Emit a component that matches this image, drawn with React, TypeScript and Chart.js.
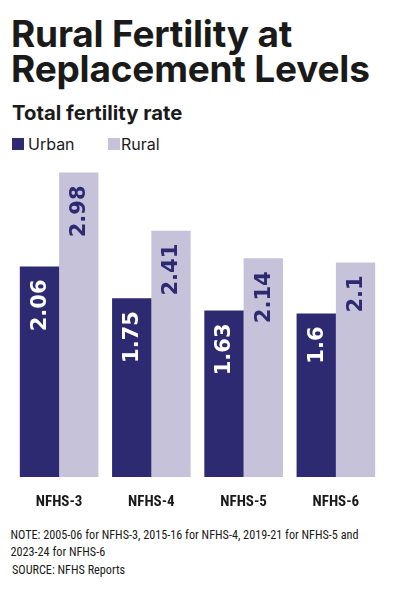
import React, { useEffect, useRef } from "react";
import { Chart, registerables } from "chart.js";

Chart.register(...registerables);

const categories = ["NFHS-3", "NFHS-4", "NFHS-5", "NFHS-6"];
const urbanValues = [2.06, 1.75, 1.63, 1.6];
const ruralValues = [2.98, 2.41, 2.14, 2.1];
const seriesNames = ["Urban", "Rural"];
const seriesColors = ["#2d2a72", "#c5c2da"];
const labelColors = ["#ffffff", "#2d2a72"];
const titleLines = ["Rural Fertility at", "Replacement Levels"];
const subtitle = "Total fertility rate";
const noteLines = [
  "NOTE: 2005-06 for NFHS-3, 2015-16 for NFHS-4, 2019-21 for NFHS-5 and",
  "2023-24 for NFHS-6",
];
const sourceText = "SOURCE: NFHS Reports";

const valueLabelPlugin = {
  id: "valueLabels",
  afterDatasetsDraw(chart: any) {
    const ctx = chart.ctx;
    chart.data.datasets.forEach((ds: any, di: number) => {
      const meta = chart.getDatasetMeta(di);
      meta.data.forEach((bar: any, i: number) => {
        const v = ds.data[i];
        ctx.save();
        ctx.translate(bar.x, bar.y + 13);
        ctx.rotate(-Math.PI / 2);
        ctx.font = "bold 21px 'DejaVu Sans'";
        ctx.fillStyle = labelColors[di];
        ctx.textAlign = "right";
        ctx.textBaseline = "middle";
        ctx.fillText(String(v), 0, 1);
        ctx.restore();
      });
    });
  },
};

function BarChart() {
  const ref = useRef<HTMLCanvasElement | null>(null);
  useEffect(() => {
    if (!ref.current) return;
    const chart = new Chart(ref.current, {
      type: "bar",
      data: {
        labels: categories,
        datasets: [
          { label: seriesNames[0], data: urbanValues, backgroundColor: seriesColors[0] },
          { label: seriesNames[1], data: ruralValues, backgroundColor: seriesColors[1] },
        ],
      },
      options: {
        animation: false,
        responsive: false,
        maintainAspectRatio: false,
        devicePixelRatio: 1,
        layout: { padding: { left: 13, right: 18, top: 0, bottom: 0 } },
        datasets: {
          bar: { barPercentage: 1, categoryPercentage: 0.852 },
        } as any,
        plugins: {
          legend: { display: false },
          tooltip: { enabled: false },
        },
        scales: {
          x: {
            grid: { display: false, drawTicks: false },
            border: { display: false },
            ticks: {
              padding: 16,
              color: "#1a1a1a",
              font: { family: "'Roboto Condensed', sans-serif", size: 15, weight: "bold" },
            },
          },
          y: {
            display: false,
            min: 0,
            max: 3.2,
          },
        },
      },
      plugins: [valueLabelPlugin],
    });
    return () => chart.destroy();
  }, []);
  return (
    <canvas
      ref={ref}
      width={400}
      height={377}
      style={{ position: "absolute", left: 0, top: 150, width: 400, height: 377 }}
    />
  );
}

export default function App() {
  const inter = "Inter, 'Noto Sans', sans-serif";
  const narrow = "'Roboto Condensed', sans-serif";
  return (
    <div
      style={{
        position: "absolute",
        left: 0,
        top: 0,
        width: 400,
        height: 590,
        background: "#ffffff",
        overflow: "hidden",
        color: "#1a1a1a",
      }}
    >
      <div
        style={{
          position: "absolute",
          left: 11,
          top: 15.8,
          fontFamily: inter,
          fontWeight: 700,
          fontSize: 37,
          lineHeight: "35px",
          letterSpacing: -0.2,
          whiteSpace: "nowrap",
        }}
      >
        {titleLines.map((t) => (
          <div key={t}>{t}</div>
        ))}
      </div>
      <div
        style={{
          position: "absolute",
          left: 12,
          top: 101.4,
          fontFamily: inter,
          fontWeight: 700,
          fontSize: 20.3,
          lineHeight: "24px",
          whiteSpace: "nowrap",
        }}
      >
        {subtitle}
      </div>
      {seriesNames.map((name, i) => (
        <React.Fragment key={name}>
          <div
            style={{
              position: "absolute",
              left: i === 0 ? 12 : 108,
              top: 138,
              width: 11.5,
              height: 11.5,
              background: seriesColors[i],
            }}
          />
          <div
            style={{
              position: "absolute",
              left: i === 0 ? 28 : 121,
              top: 133.7,
              fontFamily: inter,
              fontWeight: 400,
              fontSize: 16,
              lineHeight: "20px",
              whiteSpace: "nowrap",
            }}
          >
            {name}
          </div>
        </React.Fragment>
      ))}
      <BarChart />
      <div
        style={{
          position: "absolute",
          left: 10.5,
          top: 527.2,
          fontFamily: narrow,
          fontSize: 12.2,
          lineHeight: "17.3px",
          whiteSpace: "nowrap",
        }}
      >
        {noteLines.map((t) => (
          <div key={t}>{t}</div>
        ))}
      </div>
      <div
        style={{
          position: "absolute",
          left: 12,
          top: 562.2,
          fontFamily: narrow,
          fontSize: 12.2,
          lineHeight: "17.3px",
          whiteSpace: "nowrap",
        }}
      >
        {sourceText}
      </div>
    </div>
  );
}
